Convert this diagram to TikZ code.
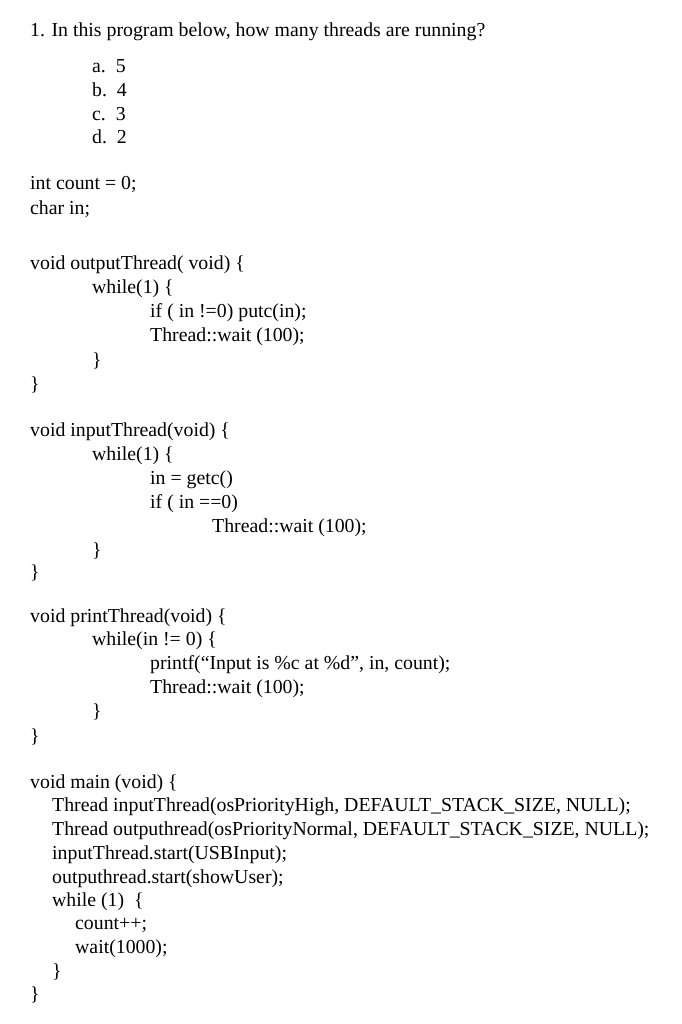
\documentclass[tikz,border=0pt]{standalone}
\usepackage{fontspec}
\setmainfont{Liberation Serif}
\begin{document}
\begin{tikzpicture}[x=1pt,y=-1pt,t/.style={anchor=west,inner sep=0pt,font=\fontsize{19.8}{22}\selectfont}]
\useasboundingbox[fill=white] (0,0) rectangle (681,1024);
\node[t] (q) at (30,32) {1. In this program below, how many threads are running?};
\node[t] (a) at (92,66) {a.\ \ 5};
\node[t] (b) at (92,90) {b.\ \ 4};
\node[t] (c) at (92,114) {c.\ \ 3};
\node[t] (d) at (92,137) {d.\ \ 2};
\node[t] (l1) at (30,184) {int count = 0;};
\node[t] (l2) at (30,209) {char in;};
\node[t] (l3) at (30,265) {void outputThread( void) \{};
\node[t] (l4) at (92,289) {while(1) \{};
\node[t] (l5) at (150,313) {if ( in !=0) putc(in);};
\node[t] (l6) at (150,337) {Thread::wait (100);};
\node[t] (l7) at (92,361) {\}};
\node[t] (l8) at (30,385) {\}};
\node[t] (l9) at (30,432) {void inputThread(void) \{};
\node[t] (l10) at (92,456) {while(1) \{};
\node[t] (l11) at (150,480) {in = getc()};
\node[t] (l12) at (150,504) {if ( in ==0)};
\node[t] (l13) at (212,528) {Thread::wait (100);};
\node[t] (l14) at (92,551) {\}};
\node[t] (l15) at (30,573) {\}};
\node[t] (l16) at (30,618) {void printThread(void) \{};
\node[t] (l17) at (92,641) {while(in != 0) \{};
\node[t] (l18) at (150,665) {printf(“Input is \%c at \%d”, in, count);};
\node[t] (l19) at (150,689) {Thread::wait (100);};
\node[t] (l20) at (92,712) {\}};
\node[t] (l21) at (30,737) {\}};
\node[t] (l22) at (30,784) {void main (void) \{};
\node[t] (l23) at (52,807) {Thread inputThread(osPriorityHigh, DEFAULT\_STACK\_SIZE, NULL);};
\node[t] (l24) at (52,831) {Thread outputhread(osPriorityNormal, DEFAULT\_STACK\_SIZE, NULL);};
\node[t] (l25) at (52,855) {inputThread.start(USBInput);};
\node[t] (l26) at (52,879) {outputhread.start(showUser);};
\node[t] (l27) at (52,902) {while (1)\ \ \{};
\node[t] (l28) at (75,925) {count++;};
\node[t] (l29) at (75,949) {wait(1000);};
\node[t] (l30) at (52,972) {\}};
\node[t] (l31) at (30,995) {\}};
\end{tikzpicture}
\end{document}
